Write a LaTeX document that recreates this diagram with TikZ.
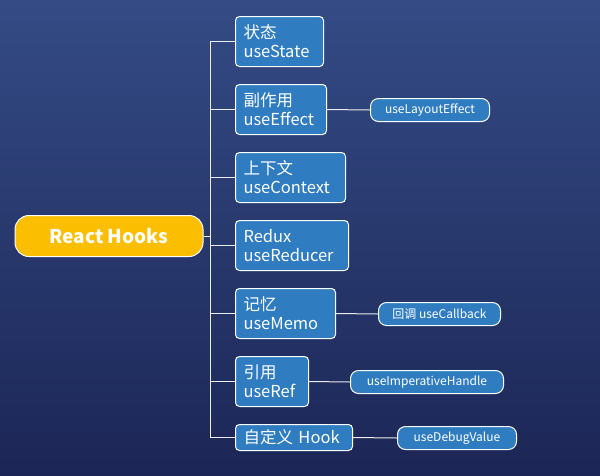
\documentclass[tikz,border=0pt]{standalone}
\usepackage{fontspec}
\setmainfont{Noto Sans CJK SC}
\begin{document}
\begin{tikzpicture}[x=1pt,y=-1pt,
  kid/.style={draw=white,line width=1pt,fill=kidblue,rounded corners=4pt,anchor=north west,align=left,inner xsep=8pt,inner ysep=3pt,text=white,font=\fontsize{16.5}{19}\selectfont},
  leaf/.style={draw=white,line width=1pt,fill=kidblue,rounded corners=8pt,anchor=west,inner sep=2pt,text=white,font=\fontsize{12}{14}\selectfont,minimum height=23pt},
  conn/.style={draw=white!85!gray,line width=1pt}]
\definecolor{kidblue}{HTML}{2F7DC0}
\definecolor{bgtop}{HTML}{344B85}
\definecolor{bgbot}{HTML}{1C2656}
\shade[top color=bgtop,bottom color=bgbot] (0,0) rectangle (600,475);
\useasboundingbox (0,0) rectangle (600,475);
\node[draw=white,line width=1pt,fill={rgb,255:red,252;green,190;blue,0},rounded corners=14pt,minimum width=188pt,minimum height=41pt,text=white,font=\fontsize{19}{22}\selectfont\bfseries] (root) at (109,236) {React Hooks};
\node[kid,minimum width=88pt,minimum height=50pt,text width=72pt] (k1) at (235,16) {状态\\useState};
\node[kid,minimum width=91pt,minimum height=50pt,text width=75pt] (k2) at (235,84) {副作用\\useEffect};
\node[kid,minimum width=110pt,minimum height=50pt,text width=94pt] (k3) at (235,152) {上下文\\useContext};
\node[kid,minimum width=113pt,minimum height=50pt,text width=97pt] (k4) at (235,220) {Redux\\useReducer};
\node[kid,minimum width=100pt,minimum height=50pt,text width=84pt] (k5) at (235,288) {记忆\\useMemo};
\node[kid,minimum width=73pt,minimum height=50pt,text width=57pt] (k6) at (235,356) {引用\\useRef};
\node[kid,minimum width=117pt,minimum height=26pt,text width=101pt,inner ysep=1pt] (k7) at (235,424) {自定义 Hook};
\node[leaf,minimum width=119pt] (l2) at (370,110) {useLayoutEffect};
\node[leaf,minimum width=122pt] (l5) at (378,314) {回调 useCallback};
\node[leaf,minimum width=153pt] (l6) at (350,382) {useImperativeHandle};
\node[leaf,minimum width=119pt] (l7) at (397,438) {useDebugValue};
\coordinate (tr) at (210,236);
\draw[conn] (root.east) -- (tr);
\draw[conn] (k1.west -| tr) -- (k7.west -| tr);
\foreach \k in {k1,k2,k3,k4,k5,k6,k7} \draw[conn] (\k.west -| tr) -- (\k.west);
\draw[conn] (k2.east) -- (l2.west);
\draw[conn] (k5.east) -- (l5.west);
\draw[conn] (k6.east) -- (l6.west);
\draw[conn] (k7.east) -- (l7.west);
\end{tikzpicture}
\end{document}
